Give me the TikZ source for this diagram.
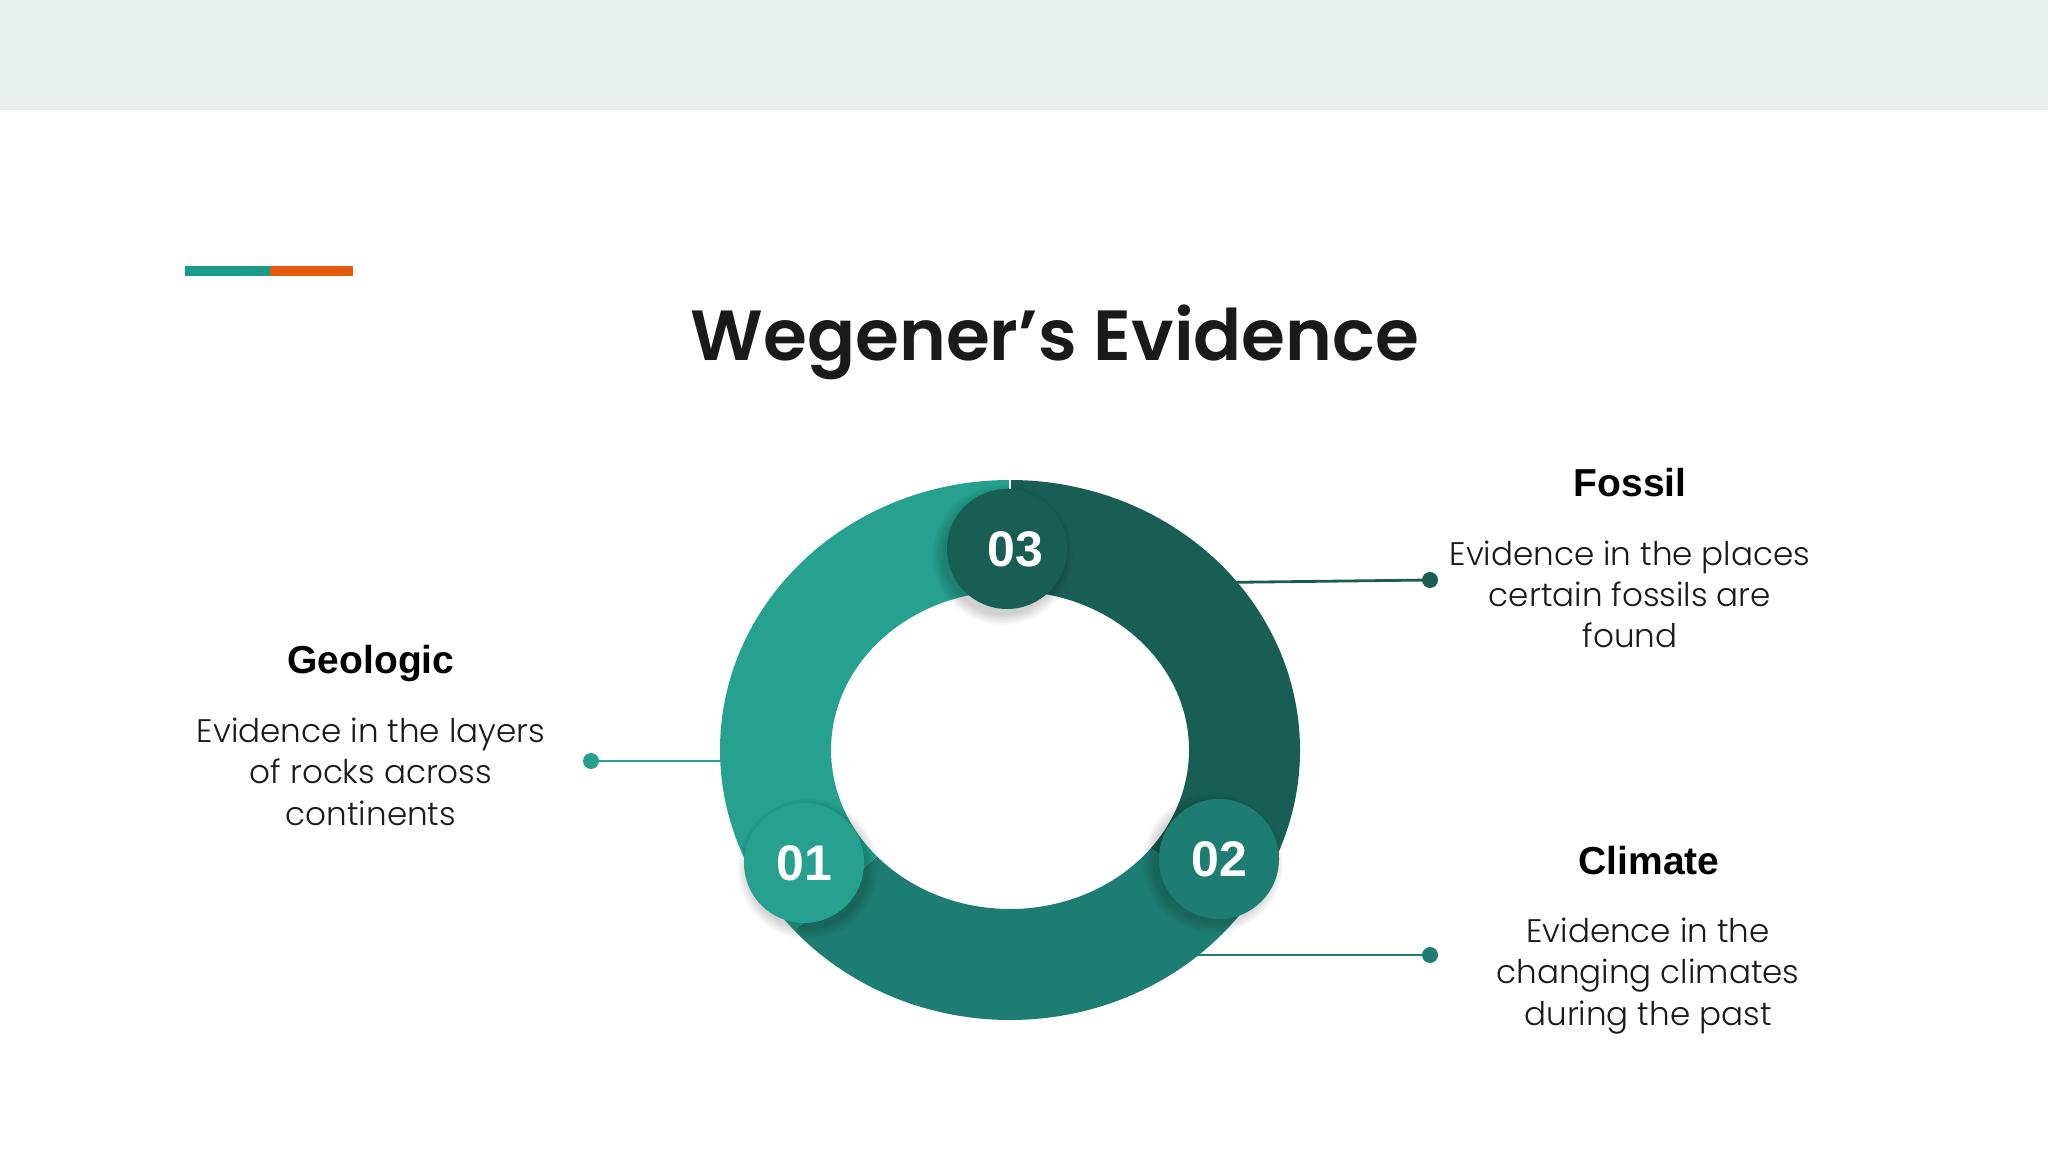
\documentclass[tikz,border=0pt]{standalone}
\usepackage{fontspec}
\setmainfont{Poppins Light}
\newfontfamily\titlefont{Poppins SemiBold}
\newfontfamily\headfont{Liberation Sans}
\usetikzlibrary{positioning,calc}
\definecolor{bandgray}{HTML}{E8EEEC}
\definecolor{tealA}{HTML}{26A08F}
\definecolor{tealB}{HTML}{1E7D72}
\definecolor{tealC}{HTML}{185E55}
\definecolor{barteal}{HTML}{1A9B8A}
\definecolor{barorange}{HTML}{E35A0D}
\definecolor{inkblack}{HTML}{1A1A1A}
% one coloured piece of the ring, from angle #2 to angle #3
\newcommand{\ringpart}[3]{%
  \fill[#1] ($(ring)+(#2:290 and 270)$) arc[start angle=#2,end angle=#3,x radius=290,y radius=270]
    -- ($(ring)+(#3:179 and 159)$) arc[start angle=#3,end angle=#2,x radius=179,y radius=159] -- cycle;}

\begin{document}
\begin{tikzpicture}[x=0.5pt,y=0.5pt,
  head/.style={font=\headfont\bfseries\fontsize{19.5}{22}\selectfont,text=black,inner sep=0pt,anchor=base},
  body/.style={font=\fontsize{16.3}{20.6}\selectfont,text=inkblack,align=center,inner sep=0pt,anchor=base},
  badge/.style={circle,fill=#1,minimum size=60pt,inner sep=0pt,text=white,
    font=\headfont\bfseries\fontsize{25}{28}\selectfont},
  dot/.style={circle,fill=#1,minimum size=8pt,inner sep=0pt},
  link/.style={#1,line width=1.4pt}]
 \useasboundingbox (0,0) rectangle (2048,1152);
 \fill[white] (0,0) rectangle (2048,1152);
 \fill[bandgray] (0,1042) rectangle (2048,1152);
 \fill[barteal] (185,876) rectangle (270,886);
 \fill[barorange] (270,876) rectangle (353,886);
 \node[font=\titlefont\fontsize{35.5}{38}\selectfont,text=inkblack,anchor=base,inner sep=0pt] (title) at (1055,791) {Wegener’s Evidence};

 \coordinate (ring) at (1010,402);
 % connectors go under the ring
 \coordinate (geoEnd) at (740,391);
 \coordinate (fosEnd) at (1220,569.5);
 \coordinate (cliEnd) at (1190,197);
 \node[dot=tealA] (geoDot) at (591,391) {};
 \node[dot=tealC] (fosDot) at (1430,572) {};
 \node[dot=tealB] (cliDot) at (1430,197) {};
 \draw[link=tealA] (geoDot.center) -- (geoEnd);
 \draw[link=tealC] (fosDot.center) -- (fosEnd);
 \draw[link=tealB] (cliDot.center) -- (cliEnd);

 \ringpart{tealB}{222}{322}
 \ringpart{tealC}{322}{450}
 \ringpart{tealA}{90}{222}
 \draw[white,line width=1pt] ($(ring)+(0,270)$) -- ($(ring)+(0,255)$);

 % soft shadows under the badges
 \foreach \c/\dx/\dy in {{804,289}/4/-6,{1219,293}/-6/-4,{1007,603}/-4/-6}
  \foreach \k in {1,...,6}
   \fill[black,opacity=0.03] ($(\c)+(\dx,\dy)$) circle[radius=58+2*\k];
 \node[badge=tealA] (b1) at (804,289) {01};
 \node[badge=tealB] (b2) at (1219,293) {02};
 \node[badge=tealC] (b3) at (1007,603) {\hspace*{8pt}03};

 \node[head] (geoHead) at (371,479) {Geologic};
 \node[body] (geoText) at (371,327) {Evidence in the layers\\of rocks across\\continents};
 \node[head] (fosHead) at (1630,655) {Fossil};
 \node[body] (fosText) at (1630,504) {Evidence in the places\\certain fossils are\\found};
 \node[head] (cliHead) at (1649,278) {Climate};
 \node[body] (cliText) at (1648,127) {Evidence in the\\changing climates\\during the past};
\end{tikzpicture}
\end{document}
